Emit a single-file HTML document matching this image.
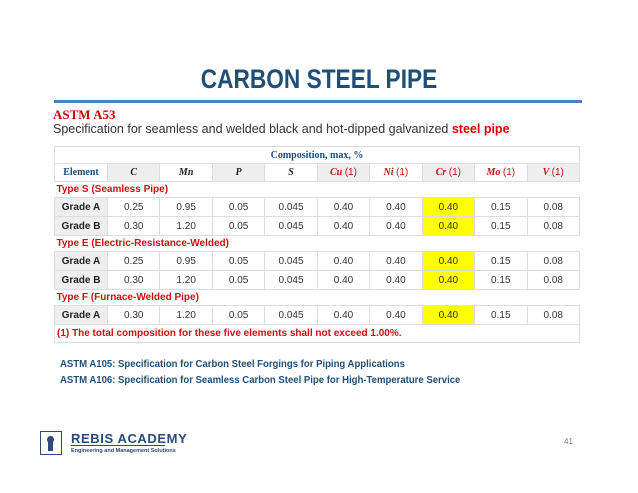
<!DOCTYPE html>
<html><head><meta charset="utf-8">
<style>
body{margin:0;width:638px;height:493px;background:#fff;position:relative;overflow:hidden;font-family:"Liberation Sans",sans-serif}
.a{position:absolute;white-space:nowrap}
table{position:absolute;left:54px;top:146px;width:526px;border-collapse:collapse;table-layout:fixed;font-size:10px}
td{border:1px solid #ddd;text-align:center;padding:0;color:#333}
.g{background:#eeeeee}
.hd{font-family:"Liberation Serif",serif;font-weight:bold;font-style:italic;color:#222}
.y{background:#ffff00}
.gl{font-weight:bold;background:#eee;color:#222}
.typ{text-align:left;color:#d01010;font-weight:bold;border-left:none;border-right:none;padding-left:2px}
.n{font-family:'Liberation Sans';font-style:normal;font-weight:normal}
</style></head><body>
<div class="a" style="left:0;width:638px;text-align:center;top:64px;font-size:27px;font-weight:bold;color:#1f4e79;transform:scaleX(0.84);transform-origin:319px 0">CARBON STEEL PIPE</div>
<div class="a" style="left:54px;top:100px;width:528px;height:3px;background:#4a7fc1"></div>
<div class="a" style="left:53px;top:107px;font-size:13px;font-weight:bold;color:#c00;font-family:'Liberation Serif',serif">ASTM A53</div>
<div class="a" style="left:53px;top:122px;font-size:12.5px;color:#333">Specification for seamless and welded black and hot-dipped galvanized <b style="color:#d00">steel pipe</b></div>
<table>
<colgroup><col style="width:53px"><col span="9"></colgroup>
<tr style="height:17px"><td colspan="10" style="font-family:'Liberation Serif',serif;font-weight:bold;color:#1f4e79;border-bottom:none">Composition, max, %</td></tr>
<tr style="height:18px"><td style="font-family:'Liberation Serif',serif;font-weight:bold;color:#1f4e79">Element</td><td class="g hd">C</td><td class="hd">Mn</td><td class="g hd">P</td><td class="hd">S</td><td class="g hd" style="color:#d01010">Cu <span class="n">(1)</span></td><td class="hd" style="color:#d01010">Ni <span class="n">(1)</span></td><td class="g hd" style="color:#d01010">Cr <span class="n">(1)</span></td><td class="hd" style="color:#d01010">Mo <span class="n">(1)</span></td><td class="g hd" style="color:#d01010">V <span class="n">(1)</span></td></tr>
<tr style="height:16px"><td colspan="10" class="typ">Type S (Seamless Pipe)</td></tr>
<tr style="height:19px"><td class="gl">Grade A</td><td>0.25</td><td>0.95</td><td>0.05</td><td>0.045</td><td>0.40</td><td>0.40</td><td class="y">0.40</td><td>0.15</td><td>0.08</td></tr>
<tr style="height:19px"><td class="gl">Grade B</td><td>0.30</td><td>1.20</td><td>0.05</td><td>0.045</td><td>0.40</td><td>0.40</td><td class="y">0.40</td><td>0.15</td><td>0.08</td></tr>
<tr style="height:16px"><td colspan="10" class="typ">Type E (Electric-Resistance-Welded)</td></tr>
<tr style="height:19px"><td class="gl">Grade A</td><td>0.25</td><td>0.95</td><td>0.05</td><td>0.045</td><td>0.40</td><td>0.40</td><td class="y">0.40</td><td>0.15</td><td>0.08</td></tr>
<tr style="height:19px"><td class="gl">Grade B</td><td>0.30</td><td>1.20</td><td>0.05</td><td>0.045</td><td>0.40</td><td>0.40</td><td class="y">0.40</td><td>0.15</td><td>0.08</td></tr>
<tr style="height:16px"><td colspan="10" class="typ">Type F (Furnace-Welded Pipe)</td></tr>
<tr style="height:19px"><td class="gl">Grade A</td><td>0.30</td><td>1.20</td><td>0.05</td><td>0.045</td><td>0.40</td><td>0.40</td><td class="y">0.40</td><td>0.15</td><td>0.08</td></tr>
<tr style="height:18px"><td colspan="10" class="typ" style="border-left:1px solid #ddd;border-right:1px solid #ddd">(1) The total composition for these five elements shall not exceed 1.00%.</td></tr>
</table>
<div class="a" style="left:60px;top:358px;font-size:10.5px;font-weight:bold;color:#1f4e79;transform:scaleX(0.91);transform-origin:0 0">ASTM A105: Specification for Carbon Steel Forgings for Piping Applications</div>
<div class="a" style="left:60px;top:374px;font-size:10.5px;font-weight:bold;color:#1f4e79;transform:scaleX(0.91);transform-origin:0 0">ASTM A106: Specification for Seamless Carbon Steel Pipe for High-Temperature Service</div>
<div class="a" style="left:40px;top:431px;width:20px;height:22px;border:1.5px solid #2e4a7a">
<div style="position:absolute;left:6px;top:4px;width:7px;height:7px;border-radius:50%;background:#2e4a7a"></div>
<div style="position:absolute;left:7px;top:9px;width:5px;height:10px;background:#2e4a7a"></div></div>
<div class="a" style="left:71px;top:431px;font-size:13px;font-weight:bold;color:#2e4a7a;letter-spacing:0.6px">REBIS ACADEMY</div>
<div class="a" style="left:71px;top:445px;width:94px;height:1px;background:#2e4a7a"></div>
<div class="a" style="left:71px;top:448px;font-size:5.5px;font-weight:bold;color:#2e4a7a">Engineering and Management Solutions</div>
<div class="a" style="left:564px;top:437px;font-size:8px;color:#777">41</div>
</body></html>
